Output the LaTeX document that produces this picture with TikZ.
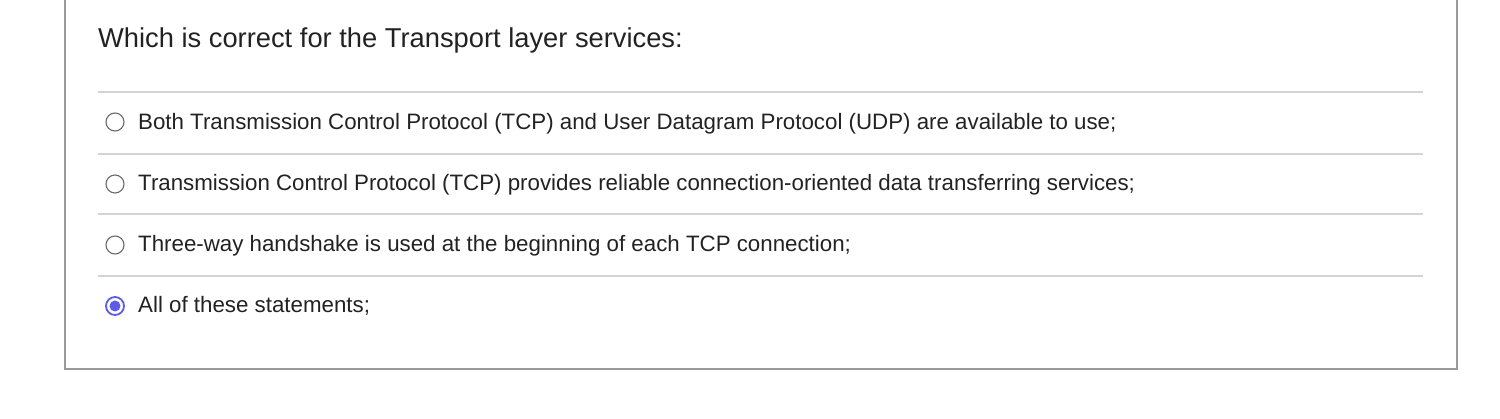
\documentclass[tikz,border=0pt]{standalone}
\usepackage{fontspec}
\setmainfont{Liberation Sans}
\definecolor{frame}{HTML}{9A9A9A}
\definecolor{sep}{HTML}{D4D4D4}
\definecolor{radio}{HTML}{6B6B6B}
\definecolor{sel}{HTML}{5C5CE8}
\definecolor{txt}{HTML}{222222}
\begin{document}
\begin{tikzpicture}[x=1pt,y=-1pt,
  opt/.style={anchor=base west,inner sep=0pt,font=\fontsize{22.3}{26}\selectfont,text=txt},
  sepline/.style={draw=sep,line width=1.2pt},
  radiobtn/.style={circle,draw=radio,line width=1.1pt,minimum size=18pt,inner sep=0pt}]
\useasboundingbox (0,0) rectangle (1500,419);
\draw[frame,line width=2pt] (65,0) -- (65,369) -- (1457,369) -- (1457,0);
\node[anchor=base west,inner sep=0pt,font=\fontsize{27.3}{32}\selectfont,text=txt] (title) at (98,48) {Which is correct for the Transport layer services:};
\foreach \y/\n in {92/s1,154/s2,214/s3,276/s4}{
  \coordinate (\n a) at (98,\y); \coordinate (\n b) at (1423,\y);
  \draw[sepline] (\n a) -- (\n b);
}
\node[radiobtn] (r1) at (115,122) {};
\node[radiobtn] (r2) at (115,184) {};
\node[radiobtn] (r3) at (115,245) {};
\node[radiobtn,draw=sel,line width=1.8pt] (r4) at (115,306) {};
\fill[sel] (r4.center) circle (5.5pt);
\node[opt] (o1) at (138,130) {Both Transmission Control Protocol (TCP) and User Datagram Protocol (UDP) are available to use;};
\node[opt] (o2) at (138,191) {Transmission Control Protocol (TCP) provides reliable connection-oriented data transferring services;};
\node[opt] (o3) at (138,252) {Three-way handshake is used at the beginning of each TCP connection;};
\node[opt] (o4) at (138,313) {All of these statements;};
\end{tikzpicture}
\end{document}
